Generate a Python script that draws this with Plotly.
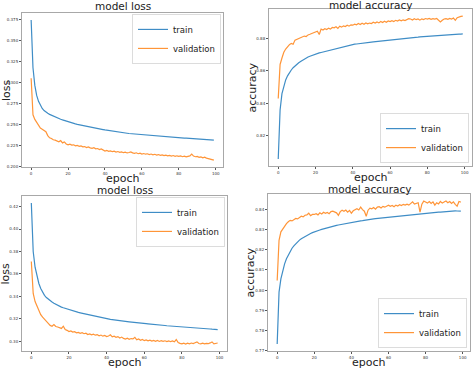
import plotly.graph_objects as go

epochs = list(range(100))

tl_train = [0.3750, 0.3180, 0.2970, 0.2850, 0.2780, 0.2730, 0.2695, 0.2670, 0.2650, 0.2637, 0.2625,
            0.2614, 0.2603, 0.2593, 0.2584, 0.2575, 0.2567, 0.2559, 0.2551, 0.2543, 0.2535,
            0.2529, 0.2523, 0.2517, 0.2511, 0.2505, 0.2500, 0.2495, 0.2490, 0.2485, 0.2480,
            0.2476, 0.2472, 0.2468, 0.2464, 0.2460, 0.2456, 0.2452, 0.2448, 0.2444, 0.2440,
            0.2436, 0.2433, 0.2429, 0.2426, 0.2422, 0.2419, 0.2415, 0.2412, 0.2408, 0.2405,
            0.2402, 0.2400, 0.2397, 0.2395, 0.2392, 0.2390, 0.2387, 0.2385, 0.2382, 0.2380,
            0.2378, 0.2376, 0.2375, 0.2373, 0.2371, 0.2369, 0.2367, 0.2366, 0.2364, 0.2362,
            0.2360, 0.2359, 0.2357, 0.2356, 0.2354, 0.2353, 0.2351, 0.2350, 0.2348, 0.2347,
            0.2345, 0.2344, 0.2342, 0.2341, 0.2339, 0.2338, 0.2336, 0.2335, 0.2333, 0.2332,
            0.2330, 0.2329, 0.2327, 0.2326, 0.2324, 0.2323, 0.2321, 0.2320, 0.2318]

tl_val = [0.3055, 0.2620, 0.2565, 0.2530, 0.2500, 0.2462, 0.2448, 0.2430, 0.2418, 0.2372, 0.2345,
          0.2338, 0.2322, 0.2318, 0.2306, 0.2298, 0.2312, 0.2285, 0.2296, 0.2272, 0.2262,
          0.2270, 0.2258, 0.2262, 0.2250, 0.2256, 0.2244, 0.2249, 0.2238, 0.2241, 0.2230,
          0.2236, 0.2226, 0.2220, 0.2228, 0.2215, 0.2218, 0.2206, 0.2212, 0.2200, 0.2188,
          0.2195, 0.2185, 0.2190, 0.2180, 0.2186, 0.2176, 0.2182, 0.2172, 0.2178, 0.2168,
          0.2174, 0.2165, 0.2170, 0.2178, 0.2166, 0.2160, 0.2167, 0.2156, 0.2162, 0.2152,
          0.2158, 0.2150, 0.2155, 0.2146, 0.2152, 0.2143, 0.2149, 0.2140, 0.2146, 0.2136,
          0.2142, 0.2133, 0.2139, 0.2130, 0.2136, 0.2127, 0.2134, 0.2124, 0.2131, 0.2125,
          0.2129, 0.2120, 0.2127, 0.2118, 0.2125, 0.2130, 0.2152, 0.2128, 0.2120, 0.2124,
          0.2112, 0.2118, 0.2108, 0.2114, 0.2104, 0.2098, 0.2092, 0.2082, 0.2080]

tr_train = [0.8058, 0.8360, 0.8460, 0.8510, 0.8545, 0.8570, 0.8590, 0.8606, 0.8620, 0.8632, 0.8642,
            0.8651, 0.8659, 0.8667, 0.8674, 0.8680, 0.8686, 0.8691, 0.8696, 0.8700, 0.8704,
            0.8708, 0.8711, 0.8714, 0.8717, 0.8720, 0.8723, 0.8726, 0.8728, 0.8731, 0.8733,
            0.8736, 0.8739, 0.8742, 0.8745, 0.8748, 0.8751, 0.8754, 0.8757, 0.8760, 0.8763,
            0.8765, 0.8766, 0.8768, 0.8769, 0.8771, 0.8772, 0.8774, 0.8775, 0.8777, 0.8778,
            0.8779, 0.8780, 0.8782, 0.8783, 0.8784, 0.8785, 0.8786, 0.8787, 0.8789, 0.8790,
            0.8791, 0.8792, 0.8794, 0.8795, 0.8796, 0.8797, 0.8799, 0.8800, 0.8801, 0.8803,
            0.8804, 0.8805, 0.8806, 0.8807, 0.8808, 0.8810, 0.8811, 0.8812, 0.8813, 0.8814,
            0.8815, 0.8816, 0.8817, 0.8817, 0.8818, 0.8819, 0.8820, 0.8820, 0.8821, 0.8822,
            0.8823, 0.8823, 0.8824, 0.8825, 0.8825, 0.8826, 0.8827, 0.8827, 0.8828]

tr_val = [0.8430, 0.8640, 0.8680, 0.8715, 0.8735, 0.8750, 0.8762, 0.8770, 0.8765, 0.8790, 0.8795,
          0.8798, 0.8805, 0.8810, 0.8815, 0.8812, 0.8822, 0.8826, 0.8832, 0.8836, 0.8840,
          0.8845, 0.8825, 0.8858, 0.8852, 0.8860, 0.8855, 0.8864, 0.8858, 0.8868, 0.8866,
          0.8872, 0.8862, 0.8876, 0.8870, 0.8878, 0.8874, 0.8882, 0.8876, 0.8884, 0.8882,
          0.8888, 0.8884, 0.8892, 0.8886, 0.8894, 0.8888, 0.8896, 0.8890, 0.8895, 0.8892,
          0.8900, 0.8895, 0.8902, 0.8896, 0.8905, 0.8898, 0.8906, 0.8900, 0.8908, 0.8904,
          0.8910, 0.8905, 0.8912, 0.8907, 0.8914, 0.8909, 0.8915, 0.8911, 0.8918, 0.8922,
          0.8920, 0.8914, 0.8922, 0.8916, 0.8920, 0.8913, 0.8921, 0.8917, 0.8923, 0.8920,
          0.8924, 0.8918, 0.8922, 0.8919, 0.8923, 0.8915, 0.8902, 0.8912, 0.8920, 0.8922,
          0.8918, 0.8924, 0.8920, 0.8926, 0.8912, 0.8928, 0.8934, 0.8936, 0.8938]

bl_train = [0.4232, 0.3800, 0.3660, 0.3575, 0.3515, 0.3470, 0.3435, 0.3410, 0.3390, 0.3375, 0.3362,
            0.3350, 0.3339, 0.3329, 0.3320, 0.3312, 0.3305, 0.3299, 0.3293, 0.3287, 0.3281,
            0.3276, 0.3271, 0.3266, 0.3262, 0.3258, 0.3254, 0.3250, 0.3246, 0.3242, 0.3238,
            0.3234, 0.3230, 0.3226, 0.3222, 0.3218, 0.3214, 0.3211, 0.3207, 0.3204, 0.3200,
            0.3197, 0.3195, 0.3193, 0.3190, 0.3188, 0.3186, 0.3184, 0.3181, 0.3179, 0.3177,
            0.3175, 0.3173, 0.3172, 0.3170, 0.3168, 0.3167, 0.3165, 0.3163, 0.3162, 0.3160,
            0.3158, 0.3156, 0.3155, 0.3153, 0.3151, 0.3149, 0.3147, 0.3146, 0.3144, 0.3142,
            0.3141, 0.3139, 0.3138, 0.3136, 0.3135, 0.3134, 0.3132, 0.3131, 0.3129, 0.3128,
            0.3127, 0.3126, 0.3124, 0.3123, 0.3122, 0.3121, 0.3120, 0.3118, 0.3117, 0.3116,
            0.3115, 0.3113, 0.3112, 0.3111, 0.3110, 0.3108, 0.3107, 0.3106, 0.3104]

bl_val = [0.3711, 0.3426, 0.3354, 0.3310, 0.3270, 0.3238, 0.3215, 0.3194, 0.3175, 0.3160, 0.3142,
          0.3135, 0.3150, 0.3132, 0.3128, 0.3122, 0.3115, 0.3135, 0.3105, 0.3098, 0.3087,
          0.3092, 0.3082, 0.3086, 0.3076, 0.3080, 0.3072, 0.3077, 0.3068, 0.3073, 0.3061,
          0.3066, 0.3058, 0.3064, 0.3055, 0.3060, 0.3050, 0.3056, 0.3046, 0.3052, 0.3043,
          0.3048, 0.3058, 0.3040, 0.3046, 0.3036, 0.3042, 0.3030, 0.3038, 0.3026, 0.3020,
          0.3028, 0.3018, 0.3025, 0.3022, 0.3036, 0.3014, 0.3021, 0.3010, 0.3017, 0.3006,
          0.3013, 0.3004, 0.3011, 0.3002, 0.3009, 0.3001, 0.3008, 0.2999, 0.3006, 0.3000,
          0.3005, 0.2998, 0.3004, 0.2997, 0.3003, 0.2996, 0.3016, 0.2990, 0.2982, 0.2977,
          0.2984, 0.2976, 0.2983, 0.2978, 0.2985, 0.2980, 0.2988, 0.2995, 0.2981, 0.2978,
          0.2984, 0.2977, 0.2982, 0.2979, 0.2986, 0.2995, 0.2978, 0.2983, 0.2985]

br_train = [0.7734, 0.7990, 0.8056, 0.8097, 0.8130, 0.8155, 0.8175, 0.8192, 0.8207, 0.8219, 0.8230,
            0.8239, 0.8247, 0.8254, 0.8260, 0.8266, 0.8271, 0.8276, 0.8280, 0.8284, 0.8288,
            0.8291, 0.8294, 0.8297, 0.8300, 0.8303, 0.8306, 0.8308, 0.8311, 0.8313, 0.8316,
            0.8318, 0.8320, 0.8322, 0.8324, 0.8326, 0.8327, 0.8329, 0.8331, 0.8332, 0.8334,
            0.8336, 0.8337, 0.8339, 0.8340, 0.8342, 0.8343, 0.8345, 0.8346, 0.8348, 0.8349,
            0.8350, 0.8352, 0.8353, 0.8354, 0.8356, 0.8357, 0.8358, 0.8359, 0.8361, 0.8362,
            0.8363, 0.8364, 0.8364, 0.8365, 0.8366, 0.8367, 0.8368, 0.8368, 0.8369, 0.8370,
            0.8371, 0.8372, 0.8373, 0.8374, 0.8375, 0.8375, 0.8376, 0.8377, 0.8378, 0.8379,
            0.8380, 0.8381, 0.8381, 0.8382, 0.8383, 0.8384, 0.8385, 0.8385, 0.8386, 0.8387,
            0.8388, 0.8389, 0.8390, 0.8391, 0.8393, 0.8392, 0.8391, 0.8390, 0.8390]

br_val = [0.8048, 0.8246, 0.8288, 0.8304, 0.8318, 0.8329, 0.8338, 0.8345, 0.8342, 0.8350, 0.8354,
          0.8352, 0.8360, 0.8365, 0.8362, 0.8370, 0.8372, 0.8380, 0.8368, 0.8374, 0.8374,
          0.8378, 0.8372, 0.8382, 0.8376, 0.8385, 0.8380, 0.8384, 0.8378, 0.8388, 0.8390,
          0.8386, 0.8382, 0.8370, 0.8388, 0.8395, 0.8390, 0.8396, 0.8385, 0.8394, 0.8380,
          0.8392, 0.8398, 0.8402, 0.8396, 0.8410, 0.8398, 0.8390, 0.8365, 0.8395, 0.8405,
          0.8402, 0.8408, 0.8400, 0.8410, 0.8412, 0.8406, 0.8414, 0.8410, 0.8416, 0.8420,
          0.8414, 0.8418, 0.8412, 0.8420, 0.8416, 0.8422, 0.8418, 0.8424, 0.8420, 0.8425,
          0.8420, 0.8428, 0.8436, 0.8425, 0.8430, 0.8432, 0.8385, 0.8425, 0.8440, 0.8435,
          0.8430, 0.8438, 0.8428, 0.8436, 0.8420, 0.8432, 0.8426, 0.8438, 0.8430, 0.8435,
          0.8440, 0.8432, 0.8438, 0.8428, 0.8436, 0.8424, 0.8415, 0.8438, 0.8435]

x_ticks = [0, 20, 40, 60, 80, 100]
series_names = ["train", "validation"]
panel_titles = ["model loss", "model accuracy", "model loss", "model accuracy"]
y_labels = ["loss", "accuracy", "loss", "accuracy"]

W, H = 474, 370
BLUE = "#3f8dc6"
ORANGE = "#ff9538"
FRAME = "#a8a8a8"
FONT = "DejaVu Sans"

# panel geometry in pixels (left, right, top, bottom), title centre y, epoch centre y, ylabel centre x
panels = [
    dict(box=(22, 223, 13, 168), data=(tl_train, tl_val), dtick=0.025, fmt=".3f", leg="tr",
         ylx=6, tty=6, epy=179),
    dict(box=(269, 472, 9, 167), data=(tr_train, tr_val), dtick=0.02, fmt=".2f", leg="br",
         ylx=253, tty=5, epy=178),
    dict(box=(22, 227, 197, 353), data=(bl_train, bl_val), dtick=0.02, fmt=".2f", leg="tr",
         ylx=6, tty=191, epy=364),
    dict(box=(268, 470, 195, 353), data=(br_train, br_val), dtick=0.01, fmt=".2f", leg="br",
         ylx=251, tty=190, epy=364),
]

fig = go.Figure()
annotations = []
layout = {}

for i, p in enumerate(panels):
    n = i + 1
    sfx = "" if n == 1 else str(n)
    l, r, t, b = p["box"]
    train, val = p["data"]
    lo = min(min(train), min(val))
    hi = max(max(train), max(val))
    pad = 0.05 * (hi - lo)
    legname = "legend" if n == 1 else f"legend{n}"
    for name, ys, col in zip(series_names, (train, val), (BLUE, ORANGE)):
        fig.add_trace(go.Scatter(
            x=epochs, y=ys, mode="lines", name=name,
            line=dict(color=col, width=1.2),
            xaxis=f"x{sfx}", yaxis=f"y{sfx}", legend=legname,
        ))
    axstyle = dict(showline=True, mirror=True, linecolor=FRAME, linewidth=1,
                   showgrid=False, zeroline=False, ticks="outside", ticklen=2,
                   tickwidth=0.6, tickcolor="#555", tickfont=dict(size=4, color="#333", family=FONT))
    layout[f"xaxis{sfx}"] = dict(domain=[l / W, r / W], range=[-4.95, 103.95],
                                 tickvals=x_ticks, anchor=f"y{sfx}", **axstyle)
    layout[f"yaxis{sfx}"] = dict(domain=[1 - b / H, 1 - t / H], range=[lo - pad, hi + pad],
                                 dtick=p["dtick"], tickformat=p["fmt"], anchor=f"x{sfx}", **axstyle)
    cx = (l + r) / 2
    annotations.append(dict(text=panel_titles[i], x=cx / W, y=1 - p["tty"] / H, xref="paper", yref="paper",
                            xanchor="center", yanchor="middle", showarrow=False,
                            font=dict(size=10.5, color="#222", family=FONT)))
    annotations.append(dict(text="epoch", x=cx / W, y=1 - p["epy"] / H, xref="paper", yref="paper",
                            xanchor="center", yanchor="middle", showarrow=False,
                            font=dict(size=11, color="#222", family=FONT)))
    annotations.append(dict(text=y_labels[i], x=p["ylx"] / W, y=1 - ((t + b) / 2) / H, xref="paper", yref="paper",
                            xanchor="center", yanchor="middle", textangle=-90, showarrow=False,
                            font=dict(size=11, color="#222", family=FONT)))
    if p["leg"] == "tr":
        leg = dict(x=(r - 2) / W, y=1 - (t + 1) / H, xanchor="right", yanchor="top")
    else:
        leg = dict(x=(r - 3) / W, y=1 - (b - 3) / H, xanchor="right", yanchor="bottom")
    layout[legname] = dict(bgcolor="rgba(255,255,255,0.9)", bordercolor="#dcdcdc", borderwidth=1,
                           font=dict(size=8.5, color="#222", family=FONT), tracegroupgap=0,
                           itemwidth=30, **leg)

fig.update_layout(width=W, height=H, margin=dict(l=0, r=0, t=0, b=0),
                  paper_bgcolor="white", plot_bgcolor="white",
                  annotations=annotations, showlegend=True, **layout)

fig.write_html("out.html", config={"displayModeBar": False},
               post_script="document.body.style.margin='0';document.body.style.padding='0';"
                           "document.body.style.overflow='hidden';")
